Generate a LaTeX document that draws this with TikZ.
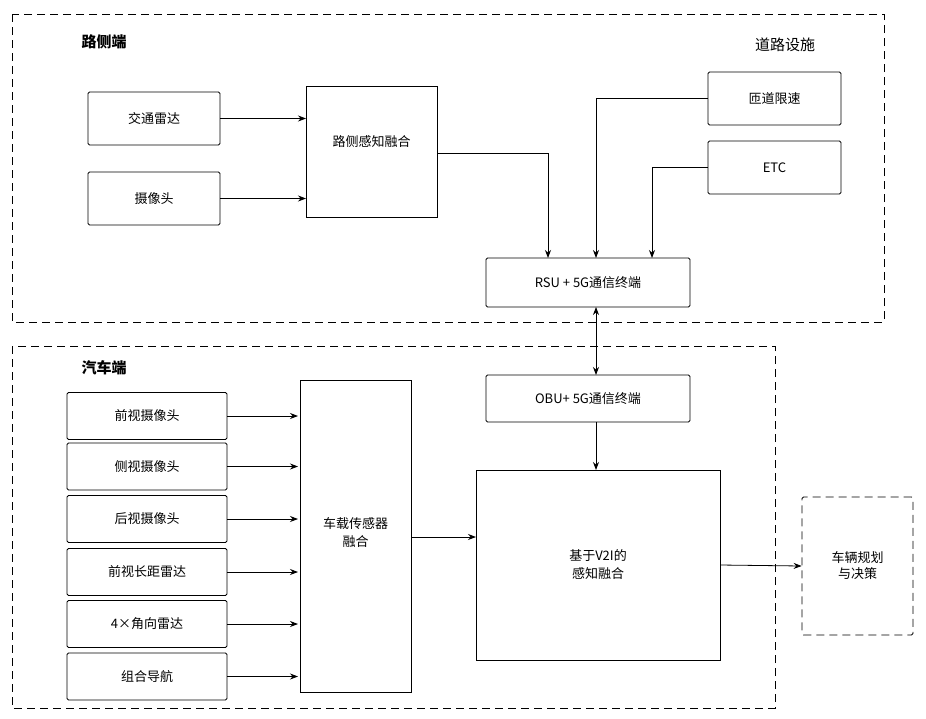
\documentclass[tikz,border=0pt]{standalone}
\usepackage{fontspec}
\setmainfont{Liberation Serif}
\newfontfamily\cjk{Noto Sans CJK SC}
\usetikzlibrary{arrows.meta}
\begin{document}
\begin{tikzpicture}[x=1pt,y=-1pt,
  box/.style={draw,thick,rounded corners=1.5pt,font=\cjk\fontsize{13}{16}\selectfont,align=center},
  region/.style={draw,thick,dash pattern=on 8pt off 5pt},
  arr/.style={thick,-{Stealth[length=8pt,width=6pt]}},
  lbl/.style={font=\cjk\bfseries\fontsize{15}{18}\selectfont}]
\useasboundingbox (0,0) rectangle (926,718);
\draw[region] (12,14) rectangle (884,322);
\draw[region] (12,346) rectangle (775,708);
\node[lbl] (t1) at (104,42) {路侧端};
\node[lbl,font=\cjk\fontsize{15}{18}\selectfont] (t2) at (785,45) {道路设施};
\node[lbl] (t3) at (104,368) {汽车端};
\node[box,minimum width=132,minimum height=53] (jt) at (154,118.5) {交通雷达};
\node[box,minimum width=132,minimum height=53] (sx) at (154,198.5) {摄像头};
\draw[thick] (306,86) rectangle (437,217);
\node[font=\cjk\fontsize{13}{16}\selectfont] (lct) at (371.5,142) {路侧感知融合};
\node[box,minimum width=133,minimum height=53] (zd) at (774.5,98.5) {匝道限速};
\node[box,minimum width=133,minimum height=53] (etc) at (774.5,167.5) {ETC};
\node[box,minimum width=204,minimum height=49] (rsu) at (588,282.5) {RSU + 5G通信终端};
\draw[arr] (jt.east) -- (306,118.5);
\draw[arr] (sx.east) -- (306,198.5);
\draw[arr] (437,153) -| (548,258);
\draw[arr] (zd.west) -| (596,258);
\draw[arr] (etc.west) -| (652,258);
\node[box,minimum width=204,minimum height=47] (obu) at (588,398.5) {OBU+ 5G通信终端};
\draw[thick,{Stealth[length=8pt,width=6pt]}-{Stealth[length=8pt,width=6pt]}] (596,307) -- (596,375);
\draw[thick] (476,470) rectangle (720,660);
\node[font=\cjk\fontsize{13}{18}\selectfont,align=center] (v2i) at (598,565) {基于V2I的\\感知融合};
\draw[arr] (596,422) -- (596,470);
\draw[thick] (300,380) rectangle (411,692);
\node[font=\cjk\fontsize{13}{18}\selectfont,align=center] (cz) at (355.5,533) {车载传感器\\融合};
\foreach \n/\t/\y in {a/前视摄像头/416,b/侧视摄像头/466.5,c/后视摄像头/519,d/前视长距雷达/572,e/4×角向雷达/624,f/组合导航/676.5}{
  \node[box,minimum width=160,minimum height=47] (\n) at (147,\y) {\t};
  \draw[arr] (\n.east) -- (298,\y);
}
\draw[arr] (411,537) -- (476,537);
\node[box,dash pattern=on 8pt off 5pt,minimum width=111,minimum height=138] (jc) at (857.5,566) {车辆规划\\与决策};
\draw[arr] (720,565) -- (jc.west);
\end{tikzpicture}
\end{document}
